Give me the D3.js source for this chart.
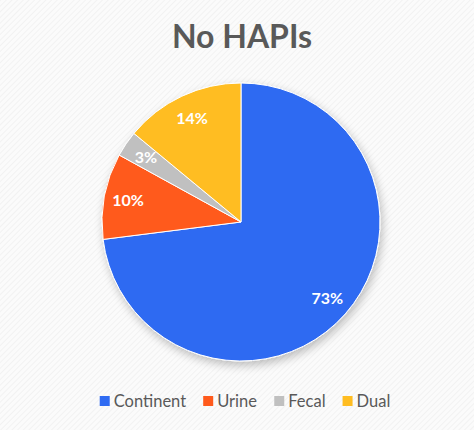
<!DOCTYPE html>
<html>
<head>
<meta charset="utf-8">
<script src="https://cdn.jsdelivr.net/npm/d3@7"></script>
<style>
  html, body { margin: 0; padding: 0; background: #fff; }
  #chart { width: 474px; height: 430px; }
</style>
</head>
<body>
<div id="chart"></div>
<script>
const categories = ['Continent', 'Urine', 'Fecal', 'Dual'];
const values = [73, 10, 3, 14];
const colors = ['#2f6bf2', '#ff5a1c', '#c0c0c0', '#ffbd21'];
const title = 'No HAPIs';

const w = 474, h = 430;
const cx = 241, cy = 222, r = 139;

const svg = d3.select('#chart')
  .append('svg')
  .attr('width', w)
  .attr('height', h)
  .attr('viewBox', `0 0 ${w} ${h}`)
  .style('font-family', 'Lato, "Open Sans", sans-serif');

const defs = svg.append('defs');

// faint diagonal hatching like the original background
const pat = defs.append('pattern')
  .attr('id', 'hatch')
  .attr('width', 4).attr('height', 4)
  .attr('patternUnits', 'userSpaceOnUse')
  .attr('patternTransform', 'rotate(45)');
pat.append('rect').attr('width', 4).attr('height', 4).attr('fill', '#fbfbfb');
pat.append('line').attr('x1', 0).attr('y1', 0).attr('x2', 0).attr('y2', 4)
  .attr('stroke', '#efefef').attr('stroke-width', 1.5);

const shadow = defs.append('filter').attr('id', 'shadow')
  .attr('x', '-20%').attr('y', '-20%').attr('width', '140%').attr('height', '140%');
shadow.append('feGaussianBlur').attr('in', 'SourceAlpha').attr('stdDeviation', 5);
shadow.append('feOffset').attr('dx', 2).attr('dy', 4).attr('result', 'off');
shadow.append('feComponentTransfer').append('feFuncA').attr('type', 'linear').attr('slope', 0.25);
const merge = shadow.append('feMerge');
merge.append('feMergeNode');
merge.append('feMergeNode').attr('in', 'SourceGraphic');

svg.append('rect').attr('width', w).attr('height', h).attr('fill', 'url(#hatch)');

// title
svg.append('text')
  .attr('x', 242).attr('y', 48)
  .attr('text-anchor', 'middle')
  .attr('font-size', 32)
  .attr('font-weight', 700)
  .attr('fill', '#595959')
  .text(title);

const data = categories.map((c, i) => ({ name: c, value: values[i], color: colors[i] }));

const pie = d3.pie().value(d => d.value).sort(null);
const arc = d3.arc().innerRadius(0).outerRadius(r);
const labelArc = d3.arc().innerRadius(115).outerRadius(115);

const g = svg.append('g').attr('transform', `translate(${cx},${cy})`);
const arcs = pie(data);

g.append('g').attr('filter', 'url(#shadow)')
  .selectAll('path')
  .data(arcs)
  .join('path')
  .attr('d', arc)
  .attr('fill', d => d.data.color)
  .attr('stroke', '#ffffff')
  .attr('stroke-width', 1);

g.selectAll('text.lbl')
  .data(arcs)
  .join('text')
  .attr('class', 'lbl')
  .attr('transform', d => `translate(${labelArc.centroid(d)})`)
  .attr('text-anchor', 'middle')
  .attr('dy', '0.36em')
  .attr('font-size', 16)
  .attr('font-weight', 700)
  .attr('fill', '#ffffff')
  .text(d => d.data.value + '%');

// legend
const legend = svg.append('g').attr('transform', 'translate(0,401)');
const items = legend.selectAll('g')
  .data(data)
  .join('g');
items.append('rect')
  .attr('y', -5).attr('width', 10).attr('height', 10)
  .attr('fill', d => d.color);
items.append('text')
  .attr('x', 14).attr('dy', '0.36em')
  .attr('font-size', 16.5)
  .attr('fill', '#595959')
  .text(d => d.name);

let widths = [];
items.each(function () { widths.push(this.getBBox().width); });
const gap = 17;
const total = d3.sum(widths) + gap * (widths.length - 1);
let x0 = 245 - total / 2;
items.attr('transform', (d, i) => {
  const t = `translate(${x0},0)`;
  x0 += widths[i] + gap;
  return t;
});
</script>
</body>
</html>
